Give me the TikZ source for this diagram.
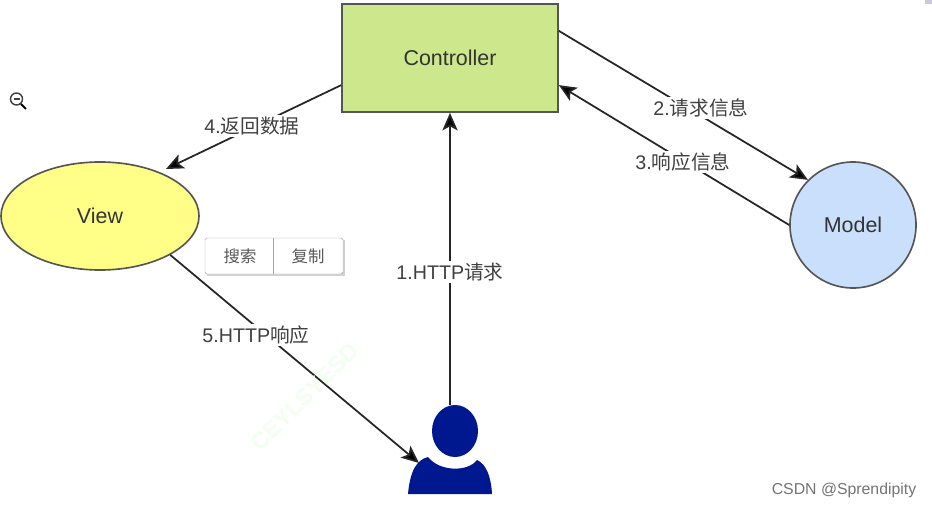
\documentclass[tikz,border=0pt]{standalone}
\usepackage{fontspec}
\setmainfont{Liberation Sans}
\newfontfamily\cjk{Noto Sans CJK SC}
\usetikzlibrary{arrows.meta,shapes.geometric}
\definecolor{ctrlgreen}{HTML}{CDE88C}
\definecolor{viewyellow}{HTML}{FFFF88}
\definecolor{modelblue}{HTML}{C9DFFB}
\definecolor{usernavy}{HTML}{00188F}
\definecolor{linegray}{HTML}{262626}
\definecolor{edgegray}{HTML}{555555}
\tikzset{
  box/.style={draw=edgegray,line width=1.4pt,inner sep=0pt,font=\fontsize{18.3}{20}\selectfont,text=black!80},
  link/.style={draw=linegray,line width=1.5pt,-{Stealth[length=15pt,width=13pt,inset=3.5pt,fill=black]}},
  lbl/.style={fill=white,inner sep=1.5pt,font=\fontsize{16.8}{18}\selectfont,text=black!75},
  btn/.style={font=\cjk\fontsize{14}{16}\selectfont,text=black!65},
}
\begin{document}
\begin{tikzpicture}[x=0.03cm,y=-0.03cm]
\useasboundingbox (0,0) rectangle (932,508);
% corner and magnifier
\fill[blue!20!gray!35] (925,0) rectangle (932,4);
\draw[black!75,line width=1.2pt] (16.5,99) circle (6);
\draw[black!75,line width=1pt] (13.5,99)--(19.5,99);
\draw[black,line width=1.8pt] (21,104)--(26,109);
% shapes
\node[box,rectangle,fill=ctrlgreen,minimum width=6.48cm,minimum height=3.24cm] (ctrl) at (450,58) {Controller};
\node[box,ellipse,fill=viewyellow,minimum width=5.94cm,minimum height=3.24cm] (view) at (100,216) {View};
\node[box,circle,fill=modelblue,minimum size=3.78cm] (model) at (853,225) {Model};
% user
\node[ellipse,fill=usernavy,inner sep=0pt,minimum width=1.38cm,minimum height=1.56cm] (userhead) at (455,431) {};
\fill[usernavy] (408,494) .. controls (410,472) and (416,460) .. (428,457) .. controls (440,472) and (468,472) .. (477,460) .. controls (486,464) and (491,476) .. (492,494) -- cycle;
\coordinate (usertop) at (450,405);
\coordinate (userbody) at (419,463);
\coordinate (viewtop) at (166,169);
% connectors
\draw[link] (usertop)--(ctrl.south);
\draw[link] (ctrl.14)--(model.135);
\draw[link] (model.west)--(ctrl.-14);
\draw[link] (ctrl.194)--(viewtop);
\draw[link] (view.-29)--(userbody);
% labels
\node[lbl] (reqlbl) at (450,272) {1.HTTP{\cjk 请求}};
\node[lbl] (infolbl) at (701,108) {2.{\cjk 请求信息}};
\node[lbl] (resplbl) at (683,162) {3.{\cjk 响应信息}};
\node[lbl] (datalbl) at (252,126) {4.{\cjk 返回数据}};
\node[lbl] (httplbl) at (256,335) {5.HTTP{\cjk 响应}};
% buttons
\fill[black!18] (207,240) rectangle (345,276);
\node[draw=black!35,fill=white,rounded corners=1.5pt,minimum width=4.14cm,minimum height=1.08cm,inner sep=0pt] (btnbar) at (274,256) {};
\draw[black!35] (273,238)--(273,274);
\node[btn] (btnsearch) at (240,256) {搜索};
\node[btn] (btncopy) at (308,256) {复制};
% watermark and footer
\node[rotate=45,text=green!6,font=\bfseries\fontsize{20}{22}\selectfont] (mark) at (305,397) {CEYLSYESD};
\node[text=black!55,font=\fontsize{13.5}{15}\selectfont] (csdn) at (844,490) {CSDN @Sprendipity};
\end{tikzpicture}
\end{document}
